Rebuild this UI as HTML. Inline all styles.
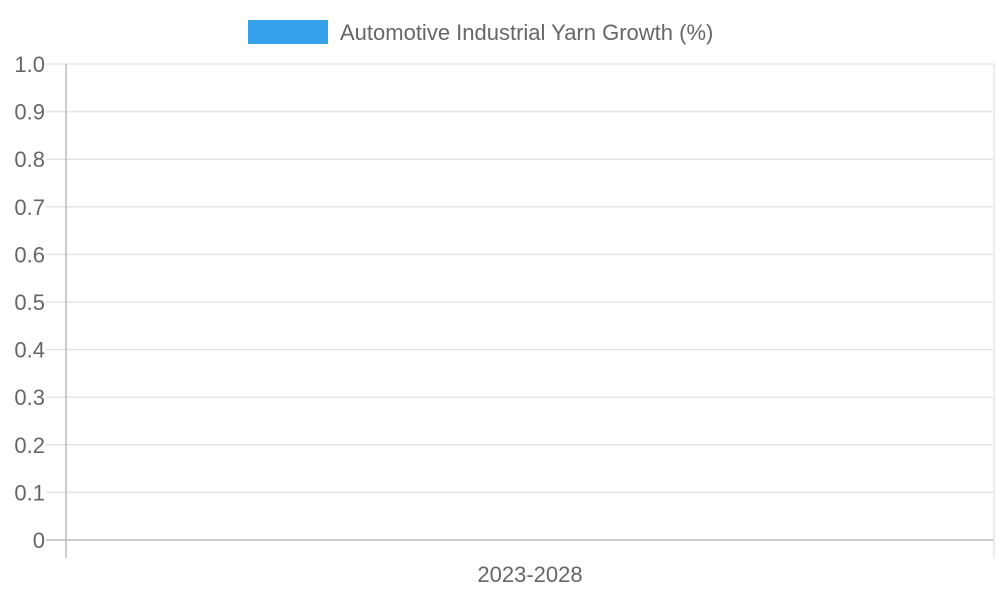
<!DOCTYPE html>
<html><head><meta charset="utf-8"><style>
body{margin:0;background:#fff;}
svg{display:block;font-family:"Liberation Sans",sans-serif;}
</style></head><body>
<svg id="chart" width="1000" height="600">
<g id="legend">
<rect x="248" y="20" width="80" height="24" fill="#36a2eb"/>
<text x="340" y="40" font-size="22" fill="#666">Automotive Industrial Yarn Growth (%)</text>
</g>
<g id="grid"></g>
<g id="bars"></g>
<g id="labels"></g>
</svg>
<script>
const categories = ["2023-2028"];
const values = [0];
const yTicks = ["0","0.1","0.2","0.3","0.4","0.5","0.6","0.7","0.8","0.9","1.0"];
const yMax = 1.0;

const L=66,R=994,T=64,B=540;
const ns="http://www.w3.org/2000/svg";
const y=v=>B-(v/yMax)*(B-T);
const bw=(R-L)/categories.length;
const grid=document.getElementById('grid'),bars=document.getElementById('bars'),labels=document.getElementById('labels');
function mk(tag,attrs,parent){const e=document.createElementNS(ns,tag);for(const k in attrs)e.setAttribute(k,attrs[k]);parent.appendChild(e);return e;}
yTicks.forEach((t,i)=>{
  const v=parseFloat(t), yy=y(v);
  const ln=mk('line',{x1:46,x2:R,y1:yy,y2:yy,stroke:v===0?'#bbb':'#e5e5e5','stroke-width':1.5},grid);
  
  
  const tx=mk('text',{x:45,y:yy+8,'text-anchor':'end','font-size':22,fill:'#666'},labels);
  tx.textContent=t;
  
  
});
categories.forEach((c,i)=>{
  const x0=L+i*bw;
  const gl=mk('line',{x1:x0,x2:x0,y1:T,y2:B+18,stroke:'#bbb','stroke-width':1.5},grid);
  
  
  const gr=mk('line',{x1:x0+bw,x2:x0+bw,y1:T,y2:B+18,stroke:'#e5e5e5','stroke-width':1.5},grid);
  
  
  const h=B-y(values[i]);
  const r=mk('rect',{x:x0+bw*0.1,y:y(values[i]),width:bw*0.8,height:h,fill:'rgba(54,162,235,0.8)',stroke:'#36a2eb'},bars);
  
  
  const tx=mk('text',{x:x0+bw/2,y:582,'text-anchor':'middle','font-size':22,fill:'#666'},labels);
  tx.textContent=c;
  
  
});
</script>
</body></html>
